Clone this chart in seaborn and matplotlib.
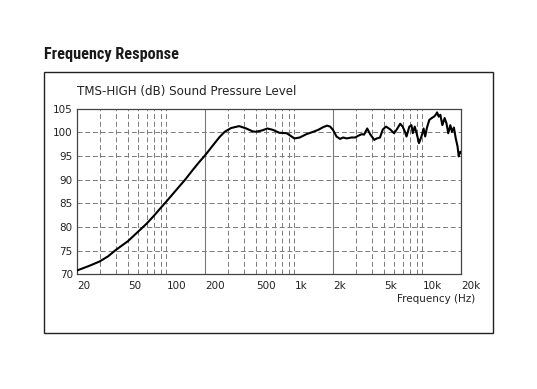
import matplotlib
matplotlib.use("Agg")
import matplotlib.pyplot as plt
from matplotlib.patches import Rectangle
import seaborn as sns
import pandas as pd

freq_hz = [20, 25, 30, 35, 40, 50, 60, 70, 80, 90, 100, 120, 140, 160, 180, 200,
           230, 260, 285, 320, 370, 420, 470, 500, 560, 615, 680, 760, 870, 950,
           1000, 1100, 1240, 1400, 1530, 1680, 1800, 1900, 2000, 2130, 2270, 2400,
           2560, 2800, 2980, 3170, 3360, 3500, 3700, 3900, 4200, 4400, 4660, 4900,
           5200, 5600, 6000, 6300, 6700, 7000, 7300, 7500, 7900, 8200, 8400, 8700,
           9000, 9400, 9900, 10200, 10500, 10800, 11300, 11800, 12300, 12700, 13000,
           13400, 13800, 14300, 14900, 15400, 15900, 16500, 17000, 17600, 18200,
           18800, 19200, 19500, 19800, 20000]
spl_db = [70.8, 71.8, 72.7, 73.8, 75.1, 77.0, 79.0, 80.7, 82.4, 84.0, 85.4, 87.9,
          90.0, 92.0, 93.7, 95.1, 97.2, 99.0, 100.1, 100.9, 101.3, 100.8, 100.2,
          100.1, 100.4, 100.8, 100.5, 99.9, 99.8, 99.1, 98.7, 98.9, 99.6, 100.1,
          100.5, 101.1, 101.4, 101.2, 100.5, 99.1, 98.6, 98.9, 98.7, 98.9, 98.9,
          99.3, 99.6, 99.5, 100.8, 99.6, 98.4, 98.7, 98.9, 100.6, 101.2, 100.6,
          99.8, 100.6, 101.8, 101.2, 100.1, 99.1, 101.2, 101.5, 99.8, 101.2, 99.8,
          97.7, 99.4, 100.8, 99.1, 100.8, 102.6, 103.0, 103.3, 103.7, 104.2, 103.3,
          103.7, 101.5, 103.0, 101.9, 99.8, 101.5, 100.1, 101.0, 98.7, 97.0, 94.9,
          95.6, 95.9, 95.6]

x_ticks = [20, 50, 100, 200, 500, 1000, 2000, 5000, 10000, 20000]
x_tick_labels = ["20", "50", "100", "200", "500", "1k", "2k", "5k", "10k", "20k"]
y_ticks = [70, 75, 80, 85, 90, 95, 100, 105]
solid_grid = [200, 2000]
dashed_grid = [30, 40, 50, 60, 70, 80, 90, 100,
               300, 400, 500, 600, 700, 800, 900, 1000,
               3000, 4000, 5000, 6000, 7000, 8000, 9000, 10000]

df = pd.DataFrame({"freq": freq_hz, "spl": spl_db})

sns.set_style("white")
plt.rcParams["font.family"] = ["DejaVu Sans"]

W, H = 537, 389
fig = plt.figure(figsize=(W / 100, H / 100), dpi=100)
ax = fig.add_axes([77 / W, 1 - 274.3 / H, (461 - 77) / W, (274.3 - 108.6) / H])

# grid
for v in dashed_grid:
    ax.axvline(v, color="#7a7a7a", lw=0.7, ls=(0, (5, 3)), zorder=1)
for v in solid_grid:
    ax.axvline(v, color="#7a7a7a", lw=0.8, zorder=1)
for v in y_ticks[1:-1]:
    ax.axhline(v, color="#7a7a7a", lw=0.7, ls=(0, (5, 3)), zorder=1)

sns.lineplot(data=df, x="freq", y="spl", ax=ax, color="black", lw=1.5,
             zorder=3, estimator=None, sort=False)

ax.set_xscale("log")
ax.set_xlim(20, 20000)
ax.set_ylim(70, 105)
ax.set_xticks(x_ticks)
ax.set_xticklabels(x_tick_labels)
ax.minorticks_off()
ax.set_yticks(y_ticks)
ax.tick_params(axis="both", length=0, labelsize=7.5, colors="#222222")
ax.tick_params(axis="x", pad=4.5)
ax.tick_params(axis="y", pad=3)
plt.setp(ax.get_xticklabels(), ha="left")
ax.set_xlabel("")
ax.set_ylabel("")
for s in ax.spines.values():
    s.set_color("#444444")
    s.set_linewidth(0.9)

# outer frame and titles
fig.add_artist(Rectangle((44 / W, 1 - 333 / H), (493 - 44) / W, (333 - 72) / H,
                         transform=fig.transFigure, fill=False,
                         edgecolor="#222222", lw=1.0))
fig.text(44 / W, 1 - 59 / H, "Frequency Response", fontsize=11.7,
         fontweight="bold",
         family=["Liberation Sans Narrow", "Roboto Condensed", "Roboto"],
         va="baseline", ha="left", color="#1a1a1a")
fig.text(77 / W, 1 - 95 / H, "TMS-HIGH (dB) Sound Pressure Level", fontsize=8.6,
         va="baseline", ha="left", color="#222222")
fig.text(475 / W, 1 - 302 / H, "Frequency (Hz)", fontsize=7.5,
         va="baseline", ha="right", color="#222222")

fig.savefig("out.png", dpi=100, facecolor="white")
